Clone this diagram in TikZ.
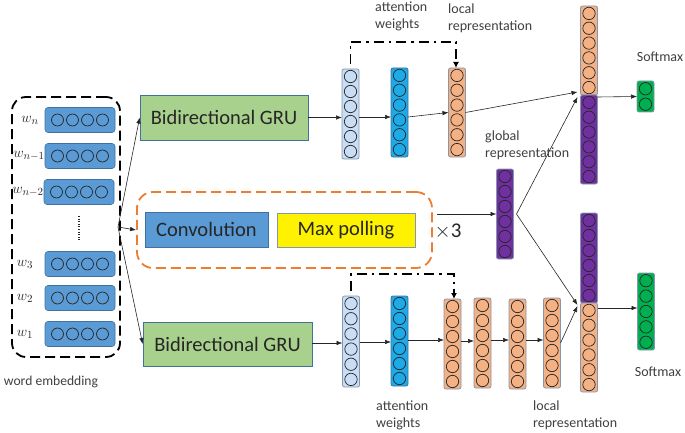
\documentclass[tikz,border=0pt]{standalone}
\usepackage{fontspec}
\setmainfont{Carlito}
\usetikzlibrary{arrows.meta,calc}
\definecolor{embblue}{HTML}{5B9BD5}
\definecolor{embborder}{HTML}{41719C}
\definecolor{grugreen}{HTML}{A9D18E}
\definecolor{lightcol}{HTML}{C9DEF4}
\definecolor{brightblue}{HTML}{1CABE8}
\definecolor{orangecol}{HTML}{F4B183}
\definecolor{purplecol}{HTML}{7030A0}
\definecolor{greencol}{HTML}{00B050}
\definecolor{dashorange}{HTML}{ED7D31}
\definecolor{boxborder}{HTML}{8497B0}
\definecolor{txt}{HTML}{262626}
\definecolor{labtxt}{HTML}{404040}
\newcommand\fillcircles[2]{\foreach \k in {1,...,#2}{\draw[circ] ($(#1.north)!{(\k-0.5)/#2}!(#1.south)$) circle[radius=6.2pt];}}
\newcommand\rowcircles[1]{\foreach \k in {1,...,4}{\draw[circ] ($(#1.center)+(\k*15-37.5,0)$) circle[radius=6pt];}}
\tikzset{
  circ/.style={draw=txt, line width=0.7pt},
  vec/.style={draw=boxborder, line width=0.8pt, rounded corners=2pt, minimum width=17pt, inner sep=0pt, outer sep=0pt},
  embrow/.style={fill=embblue, draw=embborder, line width=0.6pt, rounded corners=3pt, minimum width=70pt, minimum height=25pt, inner sep=0pt},
  wlab/.style={font=\fontsize{15}{17}\selectfont, text=txt},
  bigbox/.style={draw=embborder, line width=0.7pt, inner sep=0pt, text=txt, font=\fontsize{20.5}{24}\selectfont},
  lab/.style={font=\fontsize{14}{17}\selectfont, text=labtxt, align=left, inner sep=0pt, anchor=west},
  arr/.style={-{Latex[length=6pt,width=4.5pt]}, line width=0.6pt, draw=txt},
  dashdot/.style={line width=1.8pt, dash pattern=on 10pt off 5pt on 2.5pt off 5pt, -{Latex[length=6pt,width=6pt]}},
}
\begin{document}
\begin{tikzpicture}[x=1pt,y=-1pt]
\useasboundingbox[fill=white] (0,0) rectangle (685,433);
% word embedding
\node[draw, line width=1.8pt, dash pattern=on 10pt off 5pt, rounded corners=14pt, minimum width=108pt, minimum height=260pt, inner sep=0pt] (wbox) at (66,227) {};
\node[embrow] (e1) at (80,120) {}; \rowcircles{e1}
\node[embrow] (e2) at (80,156) {}; \rowcircles{e2}
\node[embrow] (e3) at (79,192) {}; \rowcircles{e3}
\node[embrow] (e4) at (80,264) {}; \rowcircles{e4}
\node[embrow] (e5) at (80,298) {}; \rowcircles{e5}
\node[embrow] (e6) at (80,334) {}; \rowcircles{e6}
\draw[line width=1.3pt, dash pattern=on 1pt off 1.6pt, draw=txt] (79,216) -- (79,242);
\node[wlab] (l1) at (30,120) {$w_n$};
\node[wlab] (l2) at (29,156) {$w_{n-1}$};
\node[wlab] (l3) at (28,192) {$w_{n-2}$};
\node[wlab] (l4) at (25,264) {$w_3$};
\node[wlab] (l5) at (25,298) {$w_2$};
\node[wlab] (l6) at (25,334) {$w_1$};
\node[font=\fontsize{13.6}{15}\selectfont, text=labtxt] (wlabel) at (51,382) {word embedding};
\coordinate (src) at (118,227);
% main boxes
\node[bigbox, fill=grugreen, minimum width=168pt, minimum height=45pt] (gru1) at (224,117.5) {Bidirectional GRU};
\node[bigbox, fill=grugreen, minimum width=169pt, minimum height=44pt] (gru2) at (227.5,344) {Bidirectional GRU};
\node[draw=dashorange, line width=1.8pt, dash pattern=on 10pt off 5pt, rounded corners=16pt, minimum width=295pt, minimum height=76pt, inner sep=0pt] (convbox) at (284.5,230) {};
\node[bigbox, fill=embblue, minimum width=123pt, minimum height=35pt] (conv) at (206.5,229.5) {Convolution};
\node[bigbox, fill=yellow, draw=boxborder, minimum width=138pt, minimum height=34pt] (maxp) at (346,230) {Max polling};
\node[text=txt, font=\fontsize{21}{24}\selectfont, inner sep=0pt] (x3) at (448,232) {$\times$3};
\draw[arr] (src) -- (gru1.west);
\draw[arr] (src) -- (convbox.west);
\draw[arr] (src) -- (gru2.west);
% top branch
\node[vec, fill=lightcol, minimum height=90pt] (lb1) at (350.5,114) {}; \fillcircles{lb1}{6}
\node[vec, fill=brightblue, draw=embborder, minimum height=89pt] (bb1) at (399.5,112.5) {}; \fillcircles{bb1}{6}
\node[vec, fill=orangecol, minimum height=89pt] (oc1) at (457,112.5) {}; \fillcircles{oc1}{6}
\draw[arr] (gru1.east) -- (gru1.east -| lb1.west);
\draw[arr] ([yshift=-3pt]lb1.east) -- ([yshift=-4.5pt]bb1.west);
\draw[arr] ([yshift=-4.5pt]bb1.east) -- (oc1.west);
\draw[dashdot] ([yshift=5pt]lb1.north) -- ++(0,-22) -| ([xshift=-1pt]oc1.north);
% concat top
\node[vec, fill=orangecol, minimum height=89pt] (catAo) at (589,50.5) {}; \fillcircles{catAo}{6}
\node[vec, fill=purplecol, minimum height=89pt] (catAp) at (589,139.5) {}; \fillcircles{catAp}{6}
\node[vec, fill=greencol, minimum height=31pt] (sm1) at (645.5,96.5) {}; \fillcircles{sm1}{2}
\draw[arr] (oc1.east) -- ([xshift=-3pt,yshift=3pt]catAo.south west);
\draw[arr] ([yshift=-2pt]catAo.south east) -- (sm1.west);
\node[font=\fontsize{14}{15}\selectfont, text=labtxt] (smlab1) at (660,57) {Softmax};
% global
\node[vec, fill=purplecol, minimum height=90pt] (glob) at (505,214) {}; \fillcircles{glob}{6}
\draw[arr] ([xshift=4pt,yshift=16pt]convbox.east) -- (glob.west);
\draw[arr] ([xshift=3pt]glob.east) -- ([xshift=-3pt,yshift=-2pt]catAp.north west);
% concat bottom
\node[vec, fill=purplecol, minimum height=90pt] (catBp) at (589,258) {}; \fillcircles{catBp}{6}
\node[vec, fill=orangecol, minimum height=89pt] (catBo) at (589,347.5) {}; \fillcircles{catBo}{6}
\node[vec, fill=greencol, minimum height=77pt] (sm2) at (646,311.5) {}; \fillcircles{sm2}{5}
\draw[arr] ([xshift=3pt]glob.east) -- ([xshift=-3pt,yshift=-2pt]catBo.north west);
\draw[arr] ([yshift=-5pt]catBo.north east) -- ([yshift=-5pt]catBo.north east -| sm2.west);
\node[font=\fontsize{14}{15}\selectfont, text=labtxt] (smlab2) at (658,372) {Softmax};
% bottom branch
\node[vec, fill=lightcol, minimum height=91pt] (lb2) at (351,341.5) {}; \fillcircles{lb2}{6}
\node[vec, fill=brightblue, draw=embborder, minimum height=90pt] (bb2) at (399.5,341) {}; \fillcircles{bb2}{6}
\node[vec, fill=orangecol, minimum height=90pt] (o1) at (452.5,344) {}; \fillcircles{o1}{6}
\node[vec, fill=orangecol, minimum height=90pt] (o2) at (482.5,343) {}; \fillcircles{o2}{6}
\node[vec, fill=orangecol, minimum height=90pt] (o3) at (517.5,344) {}; \fillcircles{o3}{6}
\node[vec, fill=orangecol, minimum height=90pt] (o4) at (552,343) {}; \fillcircles{o4}{6}
\draw[arr] ([yshift=1pt]gru2.east) -- ([yshift=1pt]gru2.east -| lb2.west);
\draw[arr] ([yshift=-0.5pt]lb2.east) -- ([yshift=-1pt]bb2.west);
\draw[arr] ([yshift=1pt]bb2.east) -- ([yshift=4pt]o1.west);
\draw[arr] ([yshift=3pt]o1.east) -- ([yshift=2pt]o2.west);
\draw[arr] ([yshift=3pt]o2.east) -- ([yshift=4pt]o3.west);
\draw[arr] ([yshift=4pt]o3.east) -- ([yshift=3pt]o4.west);
\draw[arr] (o4.east) -- ([xshift=-3pt,yshift=-3pt]catBo.north west);
\draw[dashdot] ([yshift=5pt]lb2.north) -- ++(0,-17) -| ([xshift=1.5pt]o1.north);
% labels
\node[lab] (aw1) at (375,16.5) {attention\\weights};
\node[lab] (lr1) at (448,18.5) {local\\representation};
\node[lab] (gr) at (485,145) {global\\representation};
\node[lab] (aw2) at (376,415.5) {attention\\weights};
\node[lab] (lr2) at (533,415.5) {local\\representation};
\end{tikzpicture}
\end{document}
